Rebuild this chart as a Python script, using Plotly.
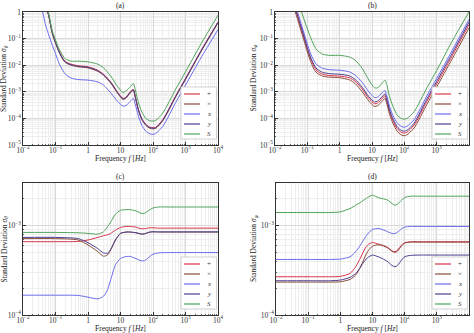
import plotly.graph_objects as go

# ---------------- data ----------------
series_names = ["+", "×", "<i>x</i>", "<i>y</i>", "<i>S</i>"]
series_colors = ["#d9344a", "#8b4c3a", "#6b6bef", "#4a3f8f", "#4fa35a"]
panel_titles = ["(a)", "(b)", "(c)", "(d)"]

# frequency grid for panels (a), (b)  [Hz]
freq_ab = [0.03, 0.04, 0.05, 0.06, 0.08, 0.1, 0.13, 0.17, 0.2, 0.3, 0.5, 1, 2, 3, 5, 8,
           12, 15, 20, 25, 28, 35, 45, 60, 80, 100, 120, 200, 500, 1000, 3000, 10000]

# log10 of standard deviation, panel (a)
a_plus = [1.1, 0.6, 0.2, -0.05, -0.78, -1.13, -1.48, -1.75, -1.86, -1.96, -2.02, -2.06, -2.19, -2.34, -2.63, -3.0,
          -3.25, -3.19, -3.0, -2.91, -3.125, -3.63, -4.0, -4.22, -4.33, -4.35, -4.34, -4.05, -3.15, -2.5, -1.45, -0.375]
a_times = [1.08, 0.58, 0.17, -0.09, -0.82, -1.17, -1.52, -1.79, -1.9, -2.0, -2.06, -2.1, -2.23, -2.38, -2.67, -3.04,
           -3.29, -3.23, -3.04, -2.95, -3.165, -3.67, -4.04, -4.26, -4.37, -4.39, -4.38, -4.09, -3.19, -2.54, -1.49, -0.41]
a_x = [0.5, 0.0, -0.5, -0.81, -1.25, -1.56, -1.94, -2.21, -2.34, -2.48, -2.54, -2.56, -2.63, -2.75, -3.04, -3.35,
       -3.54, -3.51, -3.36, -3.25, -3.44, -3.875, -4.25, -4.48, -4.58, -4.6, -4.57, -4.3, -3.4, -2.75, -1.72, -0.66]
a_y = [1.09, 0.59, 0.18, -0.07, -0.8, -1.15, -1.5, -1.77, -1.88, -1.98, -2.04, -2.08, -2.21, -2.36, -2.65, -3.02,
       -3.27, -3.21, -3.02, -2.93, -3.145, -3.65, -4.02, -4.24, -4.35, -4.37, -4.36, -4.07, -3.17, -2.52, -1.47, -0.39]
a_S = [1.15, 0.65, 0.25, 0.0, -0.72, -1.05, -1.4, -1.65, -1.76, -1.85, -1.85, -1.875, -1.96, -2.1, -2.41, -2.79,
       -3.03, -2.96, -2.81, -2.69, -2.875, -3.375, -3.75, -4.0, -4.09, -4.1, -4.08, -3.8, -2.9, -2.25, -1.2, -0.12]

# log10 of standard deviation, panel (b)
b_plus = [0.7, 0.2, -0.18, -0.5, -1.0, -1.4, -1.8, -2.1, -2.22, -2.34, -2.39, -2.41, -2.47, -2.6, -2.9, -3.25,
          -3.45, -3.42, -3.27, -3.15, -3.3, -3.75, -4.1, -4.38, -4.52, -4.55, -4.52, -4.25, -3.35, -2.7, -1.65, -0.47]
b_times = [0.6, 0.1, -0.28, -0.6, -1.1, -1.5, -1.9, -2.2, -2.3, -2.41, -2.45, -2.47, -2.55, -2.69, -3.0, -3.35,
           -3.55, -3.52, -3.37, -3.25, -3.4, -3.85, -4.2, -4.48, -4.62, -4.65, -4.62, -4.36, -3.47, -2.82, -1.77, -0.6]
b_x = [0.85, 0.38, 0.0, -0.32, -0.82, -1.2, -1.6, -1.88, -1.99, -2.12, -2.17, -2.19, -2.25, -2.37, -2.65, -3.0,
       -3.22, -3.2, -3.05, -2.95, -3.1, -3.55, -3.9, -4.17, -4.3, -4.33, -4.3, -4.05, -3.15, -2.5, -1.45, -0.28]
b_y = [0.76, 0.26, -0.12, -0.44, -0.94, -1.34, -1.74, -2.03, -2.15, -2.27, -2.32, -2.34, -2.4, -2.53, -2.83, -3.18,
       -3.38, -3.35, -3.2, -3.08, -3.23, -3.68, -4.03, -4.31, -4.45, -4.48, -4.45, -4.18, -3.27, -2.61, -1.56, -0.38]
b_S = [1.4, 0.9, 0.5, 0.18, -0.3, -0.63, -1.0, -1.31, -1.44, -1.59, -1.63, -1.63, -1.69, -1.81, -2.125, -2.56,
       -2.85, -2.85, -2.69, -2.56, -2.69, -3.19, -3.56, -3.875, -4.0, -4.03, -4.0, -3.75, -2.85, -2.2, -1.1, 0.0]

# frequency grid for panels (c), (d)  [Hz]
freq_cd = [0.01, 0.1, 0.5, 1, 2, 3, 4, 5, 7, 10, 15, 20, 30, 40, 50, 60, 80, 100, 150, 300, 1000, 10000]

# log10 of standard deviation, panel (c)
c_plus = [-3.178, -3.178, -3.175, -3.159, -3.13, -3.111, -3.1, -3.085, -3.048, -3.019, -3.007, -3.007, -3.015,
          -3.03, -3.033, -3.03, -3.022, -3.022, -3.026, -3.026, -3.026, -3.026]
c_times = [-3.144, -3.144, -3.159, -3.215, -3.289, -3.341, -3.326, -3.27, -3.159, -3.085, -3.07, -3.07, -3.078,
           -3.089, -3.093, -3.085, -3.07, -3.067, -3.07, -3.07, -3.07, -3.07]
c_x = [-3.778, -3.778, -3.781, -3.8, -3.819, -3.789, -3.715, -3.604, -3.437, -3.367, -3.344, -3.344, -3.367,
       -3.389, -3.393, -3.382, -3.344, -3.319, -3.304, -3.3, -3.3, -3.3]
c_y = [-3.13, -3.13, -3.144, -3.189, -3.256, -3.304, -3.307, -3.263, -3.159, -3.085, -3.07, -3.07, -3.078,
       -3.089, -3.093, -3.085, -3.07, -3.067, -3.068, -3.068, -3.068, -3.068]
c_S = [-3.074, -3.074, -3.078, -3.085, -3.093, -3.067, -3.011, -2.956, -2.87, -2.826, -2.819, -2.819, -2.833,
       -2.856, -2.863, -2.852, -2.819, -2.8, -2.789, -2.789, -2.789, -2.789]

# log10 of standard deviation, panel (d)
d_plus = [-3.571, -3.571, -3.571, -3.567, -3.534, -3.459, -3.377, -3.302, -3.216, -3.187, -3.205, -3.216, -3.243,
          -3.28, -3.291, -3.272, -3.216, -3.19, -3.179, -3.179, -3.179, -3.179]
d_times = [-3.631, -3.631, -3.631, -3.627, -3.601, -3.552, -3.478, -3.403, -3.291, -3.228, -3.213, -3.22, -3.25,
           -3.284, -3.298, -3.284, -3.224, -3.194, -3.183, -3.183, -3.183, -3.183]
d_x = [-3.377, -3.377, -3.377, -3.373, -3.347, -3.291, -3.228, -3.172, -3.093, -3.041, -3.03, -3.041, -3.067,
       -3.086, -3.086, -3.071, -3.034, -3.015, -3.007, -3.007, -3.007, -3.007]
d_y = [-3.616, -3.616, -3.616, -3.608, -3.578, -3.534, -3.478, -3.422, -3.358, -3.328, -3.347, -3.366, -3.403,
       -3.444, -3.459, -3.444, -3.384, -3.347, -3.332, -3.328, -3.328, -3.328]
d_S = [-2.851, -2.851, -2.851, -2.843, -2.806, -2.769, -2.743, -2.72, -2.683, -2.657, -2.683, -2.694, -2.713,
       -2.75, -2.769, -2.757, -2.713, -2.683, -2.668, -2.668, -2.668, -2.668]

x_label = "Frequency <i>f</i> [<i>Hz</i>]"
y_labels = ["Standard Deviation <i>σ<sub>θ</sub></i>", "Standard Deviation <i>σ<sub>φ</sub></i>",
            "Standard Deviation <i>σ<sub>θ</sub></i>", "Standard Deviation <i>σ<sub>φ</sub></i>"]

panels = [
    (freq_ab, [a_plus, a_times, a_x, a_y, a_S]),
    (freq_ab, [b_plus, b_times, b_x, b_y, b_S]),
    (freq_cd, [c_plus, c_times, c_x, c_y, c_S]),
    (freq_cd, [d_plus, d_times, d_x, d_y, d_S]),
]

# ---------------- layout ----------------
W, H = 474, 333
FONT = "Liberation Serif"
x_domains = [[23 / W, 218 / W], [275 / W, 469 / W], [23 / W, 218 / W], [276 / W, 469 / W]]
y_domains = [[1 - 145 / H, 1 - 12 / H], [1 - 145 / H, 1 - 12 / H],
             [1 - 315 / H, 1 - 183 / H], [1 - 315 / H, 1 - 183 / H]]
y_ranges = [[-5, 0], [-5, 0], [-4, -2.52], [-4, -2.52]]
title_y_px = [5.5, 5.5, 176, 176]
xlabel_y_px = [158, 158, 328, 328]
ylabel_x_px = [4.5, 254, 4.5, 254]

fig = go.Figure()
annotations, shapes = [], []
layout = dict(width=W, height=H, margin=dict(l=0, r=0, t=0, b=0), paper_bgcolor="white",
              plot_bgcolor="white", font=dict(family=FONT, size=7, color="#222"), showlegend=False)

for i, (freqs, vals) in enumerate(panels):
    sfx = "" if i == 0 else str(i + 1)
    for name, color, v in zip(series_names, series_colors, vals):
        fig.add_trace(go.Scatter(
            x=freqs, y=[10 ** e for e in v], mode="lines", name=name,
            line=dict(color=color, width=1, shape="spline", smoothing=0.7),
            xaxis="x" + sfx, yaxis="y" + sfx))
    grid = dict(showgrid=True, gridcolor="#d9d9d9", gridwidth=0.6, showline=True, linecolor="#333",
                linewidth=0.8, mirror=True, ticks="inside", ticklen=3, tickcolor="#333",
                exponentformat="power", automargin=False, zeroline=False, dtick=1,
                tickfont=dict(family=FONT, size=6, color="#333"),
                minor=dict(showgrid=True, gridcolor="#eeeeee", gridwidth=0.5, ticks="inside",
                           ticklen=1.5, tickcolor="#666"))
    layout["xaxis" + sfx] = dict(grid, type="log", range=[-2, 4], domain=x_domains[i], anchor="y" + sfx,
                                 ticklabelstandoff=-2)
    layout["yaxis" + sfx] = dict(grid, type="log", range=y_ranges[i], domain=y_domains[i], anchor="x" + sfx)

    xc = (x_domains[i][0] + x_domains[i][1]) / 2
    yc = (y_domains[i][0] + y_domains[i][1]) / 2
    annotations.append(dict(text=panel_titles[i], x=xc, y=1 - title_y_px[i] / H, xref="paper", yref="paper",
                            xanchor="center", yanchor="middle", showarrow=False, font=dict(size=7.5)))
    annotations.append(dict(text=x_label, x=xc, y=1 - xlabel_y_px[i] / H, xref="paper", yref="paper",
                            xanchor="center", yanchor="middle", showarrow=False, font=dict(size=7.5)))
    annotations.append(dict(text=y_labels[i], x=ylabel_x_px[i] / W, y=yc, xref="paper", yref="paper",
                            xanchor="center", yanchor="middle", textangle=-90, showarrow=False,
                            font=dict(size=7.5)))

    # compact legend box in the lower-right corner of each panel
    pw = (x_domains[i][1] - x_domains[i][0]) * W
    ph = (y_domains[i][1] - y_domains[i][0]) * H
    xr, yr = "x" + sfx + " domain", "y" + sfx + " domain"
    shapes.append(dict(type="rect", xref=xr, yref=yr, x0=1 - 37 / pw, x1=1 - 1.5 / pw,
                       y0=6 / ph, y1=58 / ph, fillcolor="white", line=dict(color="#c8c8c8", width=0.8),
                       layer="above"))
    for k, (name, color) in enumerate(zip(series_names, series_colors)):
        yk = (11 + 10 * (4 - k)) / ph
        shapes.append(dict(type="line", xref=xr, yref=yr, x0=1 - 34 / pw, x1=1 - 18 / pw, y0=yk, y1=yk,
                           line=dict(color=color, width=1.2), layer="above"))
        annotations.append(dict(text=name, xref=xr, yref=yr, x=1 - 9 / pw, y=yk, xanchor="center",
                                yanchor="middle", showarrow=False, font=dict(size=7, color="#333")))

layout["annotations"] = annotations
layout["shapes"] = shapes
fig.update_layout(**layout)
fig.write_html("out.html")
